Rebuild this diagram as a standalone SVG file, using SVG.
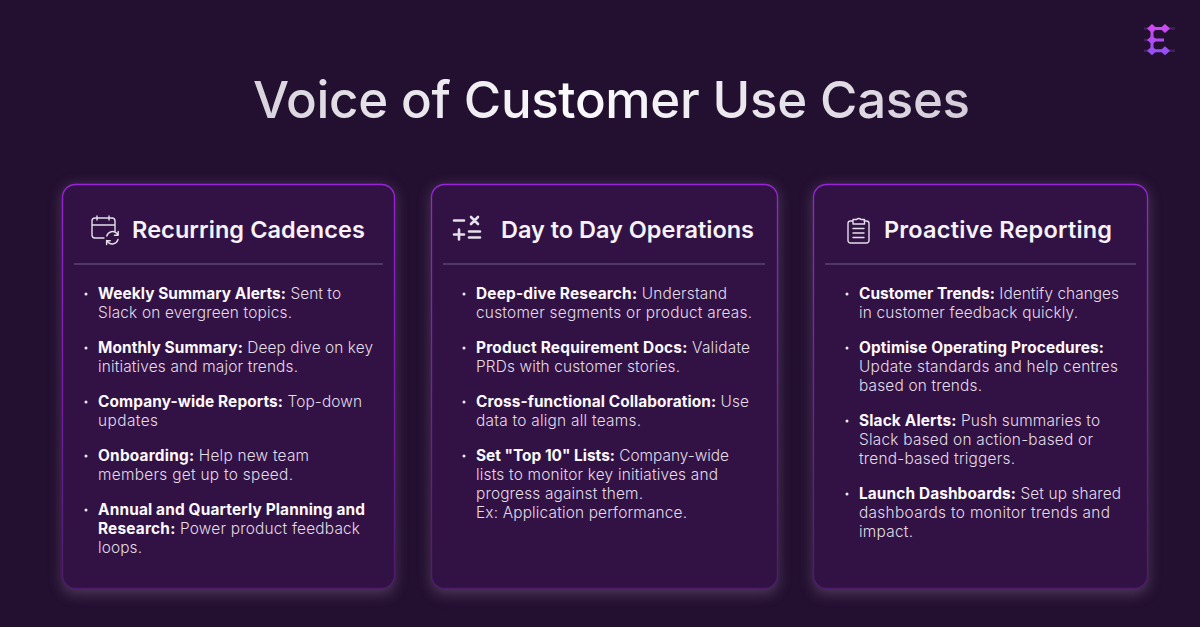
<svg xmlns="http://www.w3.org/2000/svg" width="1200" height="627" viewBox="0 0 1200 627">
<defs>
<linearGradient id="title" gradientUnits="userSpaceOnUse" x1="253" y1="0" x2="970" y2="0"><stop offset="0" stop-color="#d8d3dc"/><stop offset="0.45" stop-color="#fbfafc"/><stop offset="1" stop-color="#d4cdd9"/></linearGradient>
<linearGradient id="edge" x1="0" y1="0" x2="0" y2="1"><stop offset="0" stop-color="#9a22dc"/><stop offset="0.5" stop-color="#7a1cb0"/><stop offset="1" stop-color="#4f1a6c"/></linearGradient>
<linearGradient id="logo" gradientUnits="userSpaceOnUse" x1="0" y1="24" x2="0" y2="56"><stop offset="0" stop-color="#d648f0"/><stop offset="1" stop-color="#8c50f5"/></linearGradient>
<filter id="glow" x="-15%" y="-15%" width="130%" height="130%"><feGaussianBlur stdDeviation="7"/></filter>
</defs>
<style>
.card{fill:#321245;stroke:url(#edge);stroke-width:1.3}
.halo{fill:#5e4c6b;opacity:.7;filter:url(#glow)}
.rule{stroke:#5b4570;stroke-width:1.6}
.head{font:600 23.500px Inter,"Open Sans",sans-serif;fill:#f6f3f8}
.body{font:300 15.400px Inter,"Open Sans",sans-serif;fill:#e2dce6}
.body tspan.b{font-weight:700;fill:#fbf9fc}
.ic{fill:none;stroke:#e4dfe8;stroke-width:1.4;stroke-linecap:round;stroke-linejoin:round}
.bu{fill:#f0ecf3}
</style>
<rect width="1200" height="627" fill="#230f30"/>
<g id="logo-mark">
<path d="M1144 28.500h4M1169 28.500h6M1144 40h4M1144 50.700h4M1169 50.700h6" fill="none" stroke="#43215f" stroke-width="2.500"/>
<path d="M1152 28.500h13M1152 40h12M1152 50.700h13M1152 28.500v22.200" fill="none" stroke="url(#logo)" stroke-width="3"/>
<path fill="url(#logo)" d="M1152 24l5 4.500-5 4.500-5-4.500zM1165 24l5 4.500-5 4.500-5-4.500zM1152 35.500l5 4.500-5 4.500-5-4.500zM1152 46.200l5 4.500-5 4.500-5-4.500zM1165 46.200l5 4.500-5 4.500-5-4.500z"/>
</g>
<text x="611.500" y="118" text-anchor="middle" font-family="Inter, Open Sans, sans-serif" font-size="51" font-weight="500" fill="url(#title)" textLength="717" lengthAdjust="spacing">Voice of Customer Use Cases</text>

<g id="card-recurring">
<rect class="halo" x="62" y="186" width="333" height="408" rx="13"/>
<rect class="card" x="62.500" y="184.500" width="332" height="404" rx="13"/>
<g class="ic"><path d="M104 238H95a3 3 0 0 1-3-3V221a3 3 0 0 1 3-3h17a3 3 0 0 1 3 3v10M92 225h23M97 216v4M109 216v4"/><path d="M106.800 236a6 6 0 0 1 10.200-2.500l1.200 1.500M118.200 231.500v3.700h-3.700M118 239.500a6 6 0 0 1-10.200 2.500l-1.200-1.500M106.600 244.500v-3.700h3.700"/></g>
<text class="head" x="132" y="238" textLength="233">Recurring Cadences</text>
<line class="rule" x1="74" y1="264" x2="383" y2="264"/>
<g class="body">
<circle class="bu" cx="86" cy="294" r="1.500"/>
<text x="98" y="299" textLength="243"><tspan class="b">Weekly Summary Alerts:</tspan> Sent to</text><text x="98" y="318" textLength="194">Slack on evergreen topics.</text>
<circle class="bu" cx="86" cy="348" r="1.500"/>
<text x="98" y="353" textLength="275"><tspan class="b">Monthly Summary:</tspan> Deep dive on key</text><text x="98" y="372" textLength="200">initiatives and major trends.</text>
<circle class="bu" cx="86" cy="402" r="1.500"/>
<text x="98" y="407" textLength="264"><tspan class="b">Company-wide Reports:</tspan> Top-down</text><text x="98" y="426" textLength="60">updates</text>
<circle class="bu" cx="86" cy="456" r="1.500"/>
<text x="98" y="461" textLength="211"><tspan class="b">Onboarding:</tspan> Help new team</text><text x="98" y="480" textLength="195">members get up to speed.</text>
<circle class="bu" cx="86" cy="510" r="1.500"/>
<text x="98" y="515" textLength="267"><tspan class="b">Annual and Quarterly Planning and</tspan></text><text x="98" y="534" textLength="262"><tspan class="b">Research:</tspan> Power product feedback</text><text x="98" y="553" textLength="44">loops.</text>
</g>
</g>

<g id="card-day-to-day">
<rect class="halo" x="431" y="186" width="347" height="408" rx="13"/>
<rect class="card" x="431.500" y="184.500" width="346" height="404" rx="13"/>
<g class="ic" style="stroke-width:2.600"><path d="M454 220.500h10M471 217l7 7M478 217l-7 7M454 234.500h10M459 229.500v10M469 231.500h11M469 237.500h11"/></g>
<text class="head" x="501" y="238" textLength="253">Day to Day Operations</text>
<line class="rule" x1="443" y1="264" x2="765" y2="264"/>
<g class="body">
<circle class="bu" cx="464" cy="294" r="1.500"/>
<text x="476" y="299" textLength="251"><tspan class="b">Deep-dive Research:</tspan> Understand</text><text x="476" y="318" textLength="276">customer segments or product areas.</text>
<circle class="bu" cx="464" cy="348" r="1.500"/>
<text x="476" y="353" textLength="274"><tspan class="b">Product Requirement Docs:</tspan> Validate</text><text x="476" y="372" textLength="204">PRDs with customer stories.</text>
<circle class="bu" cx="464" cy="402" r="1.500"/>
<text x="476" y="407" textLength="273"><tspan class="b">Cross-functional Collaboration:</tspan> Use</text><text x="476" y="426" textLength="165">data to align all teams.</text>
<circle class="bu" cx="464" cy="456" r="1.500"/>
<text x="476" y="461" textLength="253"><tspan class="b">Set "Top 10" Lists:</tspan> Company-wide</text><text x="476" y="480" textLength="242">lists to monitor key initiatives and</text><text x="476" y="499" textLength="167">progress against them.</text><text x="476" y="518" textLength="211">Ex: Application performance.</text>
</g>
</g>

<g id="card-proactive">
<rect class="halo" x="813" y="186" width="335" height="408" rx="13"/>
<rect class="card" x="813.500" y="184.500" width="334" height="404" rx="13"/>
<g class="ic"><path d="M853 221h-2.500a2.500 2.500 0 0 0-2.500 2.500v17a2.500 2.500 0 0 0 2.500 2.500h16a2.500 2.500 0 0 0 2.500-2.500v-17a2.500 2.500 0 0 0-2.500-2.500H864M853 224v-4.500h3.500a3 3 0 0 1 4.500 0h3.500V224zM853 228.500h11M853 233h11M853 237.500h11"/></g>
<text class="head" x="884" y="238" textLength="228">Proactive Reporting</text>
<line class="rule" x1="825" y1="264" x2="1136" y2="264"/>
<g class="body">
<circle class="bu" cx="847" cy="294" r="1.500"/>
<text x="859" y="299" textLength="260"><tspan class="b">Customer Trends:</tspan> Identify changes</text><text x="859" y="318" textLength="219">in customer feedback quickly.</text>
<circle class="bu" cx="847" cy="348" r="1.500"/>
<text x="859" y="353" textLength="245"><tspan class="b">Optimise Operating Procedures:</tspan></text><text x="859" y="372" textLength="259">Update standards and help centres</text><text x="859" y="391" textLength="123">based on trends.</text>
<circle class="bu" cx="847" cy="421" r="1.500"/>
<text x="859" y="426" textLength="241"><tspan class="b">Slack Alerts:</tspan> Push summaries to</text><text x="859" y="445" textLength="234">Slack based on action-based or</text><text x="859" y="464" textLength="156">trend-based triggers.</text>
<circle class="bu" cx="847" cy="494" r="1.500"/>
<text x="859" y="499" textLength="262"><tspan class="b">Launch Dashboards:</tspan> Set up shared</text><text x="859" y="518" textLength="251">dashboards to monitor trends and</text><text x="859" y="537" textLength="54">impact.</text>
</g>
</g>
</svg>
